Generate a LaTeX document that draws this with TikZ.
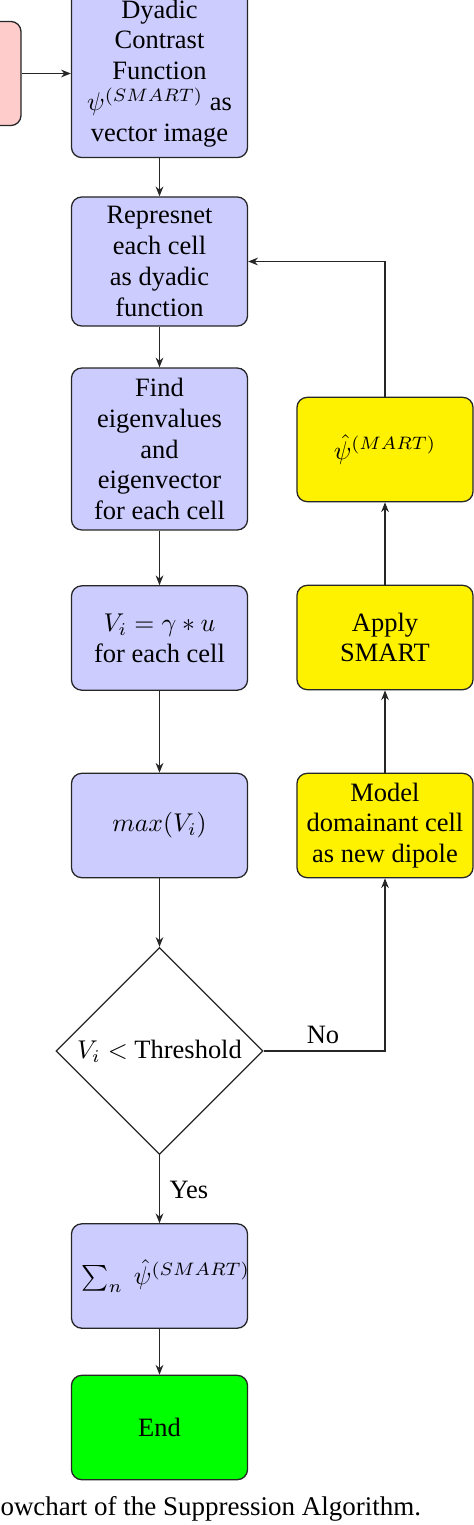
\documentclass[tikz,border=0pt]{standalone}
\usepackage{fontspec}
\setmainfont{Liberation Serif}
\usetikzlibrary{shapes.geometric,arrows.meta}
\tikzset{
  box/.style={rectangle, rounded corners=4pt, draw=black!85, line width=0.5pt,
    minimum width=68.5pt, minimum height=40.6pt, align=center, inner sep=2pt,
    font=\fontsize{10.3pt}{12pt}\selectfont},
  bluebox/.style={box, fill=blue!20},
  pinkbox/.style={box, fill=red!20},
  yelbox/.style={box, fill=yellow},
  greenbox/.style={box, fill=green},
  decision/.style={diamond, draw=black!85, line width=0.5pt, fill=white, aspect=1,
    minimum width=80.5pt, minimum height=80.5pt, inner sep=0pt, font=\fontsize{10.3pt}{12pt}\selectfont},
  conn/.style={draw=black!85, line width=0.5pt, -{Stealth[length=3.8pt,width=3pt]}},
  lbl/.style={font=\fontsize{10.3pt}{12pt}\selectfont, inner sep=0pt},
}
\begin{document}
\begin{tikzpicture}[x=0.389pt, y=-0.389pt]
\useasboundingbox (0,0) rectangle (474,1525);
\clip (0,0) rectangle (474,1525);

\node[pinkbox, minimum height=40.5pt] (start) at (-67,73.5) {};
\node[bluebox, minimum height=65.4pt] (b1) at (159.5,73.5) {Dyadic\\Contrast\\Function\\$\psi^{(SMART)}$ as\\vector image};
\node[bluebox, minimum height=50.2pt] (b2) at (159.5,261.5) {Represnet\\each cell\\as dyadic\\function};
\node[bluebox, minimum height=63pt] (b3) at (159.5,449) {Find\\eigenvalues\\and\\eigenvector\\for each cell};
\node[bluebox] (b4) at (159.5,638) {$V_i=\gamma*u$\\for each cell};
\node[bluebox] (b5) at (159.5,825.5) {$max(V_i)$};
\node[decision] (d) at (159.5,1051) {$V_i<$ Threshold};
\node[bluebox] (b6) at (159.5,1276) {\makebox[0pt]{\kern5pt$\sum_n\ \hat{\psi}^{(SMART)}$}};
\node[greenbox] (b7) at (159.5,1427.5) {End};

\node[yelbox] (y3) at (385,825.5) {Model\\domainant cell\\as new dipole};
\node[yelbox] (y2) at (385,637.5) {Apply\\SMART};
\node[yelbox] (y1) at (385,449.5) {$\hat{\psi}^{(MART)}$};

\node[lbl] (no) at (323,1035) {No};
\node[lbl] (yes) at (189,1190) {Yes};
\node[lbl, anchor=west, font=\fontsize{10.5pt}{12pt}\selectfont] (cap) at (0,1509) {owchart of the Suppression Algorithm.};

\draw[conn] (start.east) -- (b1.west);
\draw[conn] (b1) -- (b2);
\draw[conn] (b2) -- (b3);
\draw[conn] (b3) -- (b4);
\draw[conn] (b4) -- (b5);
\draw[conn] (b5) -- (d);
\draw[conn] (d) -- (b6);
\draw[conn] (b6) -- (b7);
\draw[conn] (d.east) -| (y3.south);
\draw[conn] (y3) -- (y2);
\draw[conn] (y2) -- (y1);
\draw[conn] (y1.north) |- (b2.east);
\end{tikzpicture}
\end{document}
